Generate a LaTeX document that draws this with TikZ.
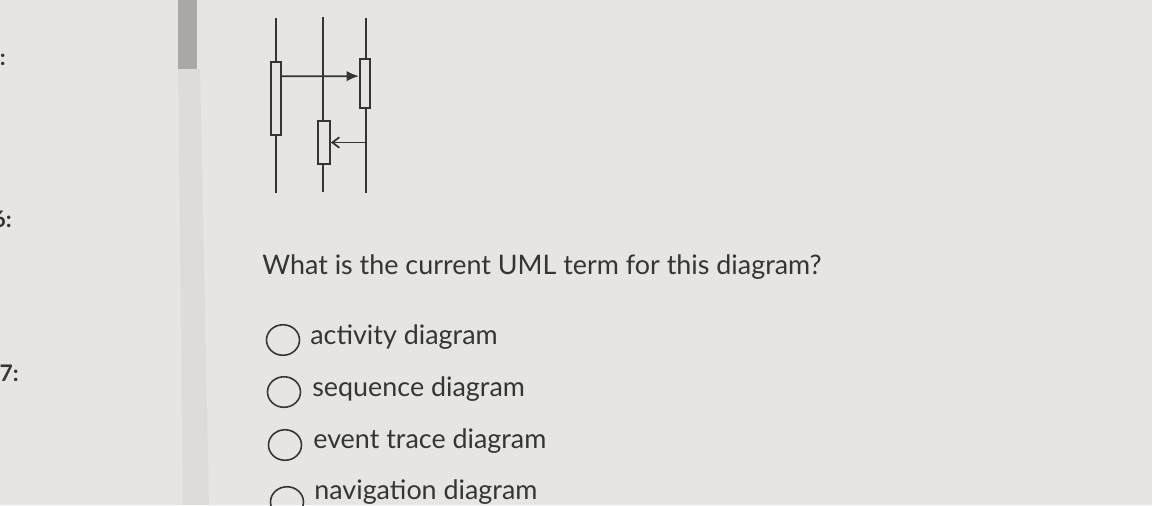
\documentclass[tikz,border=0pt]{standalone}
\usepackage{fontspec}
\setmainfont{Lato}
\usetikzlibrary{arrows.meta,shapes.geometric}
\definecolor{paper}{HTML}{E6E5E1}
\definecolor{ink}{HTML}{353535}
\definecolor{thumb}{HTML}{A9A8A4}
\definecolor{track}{HTML}{DEDCD8}
\begin{document}
\begin{tikzpicture}[x=0.02cm, y=-0.02cm,
  every node/.style = {text=ink, inner sep=0pt},
  lifeline/.style = {draw=ink, line width=1.2pt},
  bar/.style = {draw=ink, fill=paper, line width=1pt, minimum width=0.21cm},
  radio/.style = {draw=ink, ellipse, line width=0.9pt, minimum width=0.66cm, minimum height=0.61cm},
  answer/.style = {anchor=base west, font=\fontsize{15.3}{18}\selectfont},
  number/.style = {anchor=base east, font=\bfseries\fontsize{13}{15}\selectfont}]
\fill[paper] (0,0) rectangle (1152,505);
\useasboundingbox (0,0) rectangle (1152,505);
% scroll bar
\fill[track] (178,69) -- (200,69) -- (209,505) -- (183,505) -- cycle;
\fill[thumb] (178,0) rectangle (197,69);
% question numbers at the left edge
\node[number] (q5) at (6,65) {:};
\node[number] (q6) at (12,227) {6:};
\node[number] (q7) at (19,381) {7:};
% lifelines
\coordinate (atop) at (276,18);
\coordinate (abot) at (276,193);
\coordinate (btop) at (323,17);
\coordinate (bbot) at (323,192);
\coordinate (ctop) at (366,18);
\coordinate (cbot) at (366,193);
\draw[lifeline] (atop) -- (abot);
\draw[lifeline] (btop) -- (bbot);
\draw[lifeline] (ctop) -- (cbot);
% activations
\node[bar, minimum height=1.46cm] (abar) at (276,98.5) {};
\node[bar, minimum height=0.98cm] (cbar) at (365,83.5) {};
\node[bar, minimum height=0.86cm, minimum width=0.24cm] (bbar) at (324,142.5) {};
% messages
\draw[ink, line width=1pt, -{Latex[length=7pt,width=6pt]}] ([yshift=-0.3cm]abar.north east) -- ([yshift=-0.36cm]cbar.north west);
\draw[ink, line width=1pt, -{Straight Barb[length=4pt,width=6pt]}] (cbot |- bbar.east) -- (bbar.east);
% question
\node[anchor=base west, font=\fontsize{15.3}{18}\selectfont] (question) at (262,274) {What is the current UML term for this diagram?};
% choices
\node[radio] (r1) at (283,340) {};
\node[radio] (r2) at (284,392) {};
\node[radio] (r3) at (285,445) {};
\node[radio] (r4) at (287,502) {};
\node[answer] (a1) at (310,344) {activity diagram};
\node[answer] (a2) at (312,396) {sequence diagram};
\node[answer] (a3) at (313,448) {event trace diagram};
\node[answer] (a4) at (314,499) {navigation diagram};
\end{tikzpicture}
\end{document}
